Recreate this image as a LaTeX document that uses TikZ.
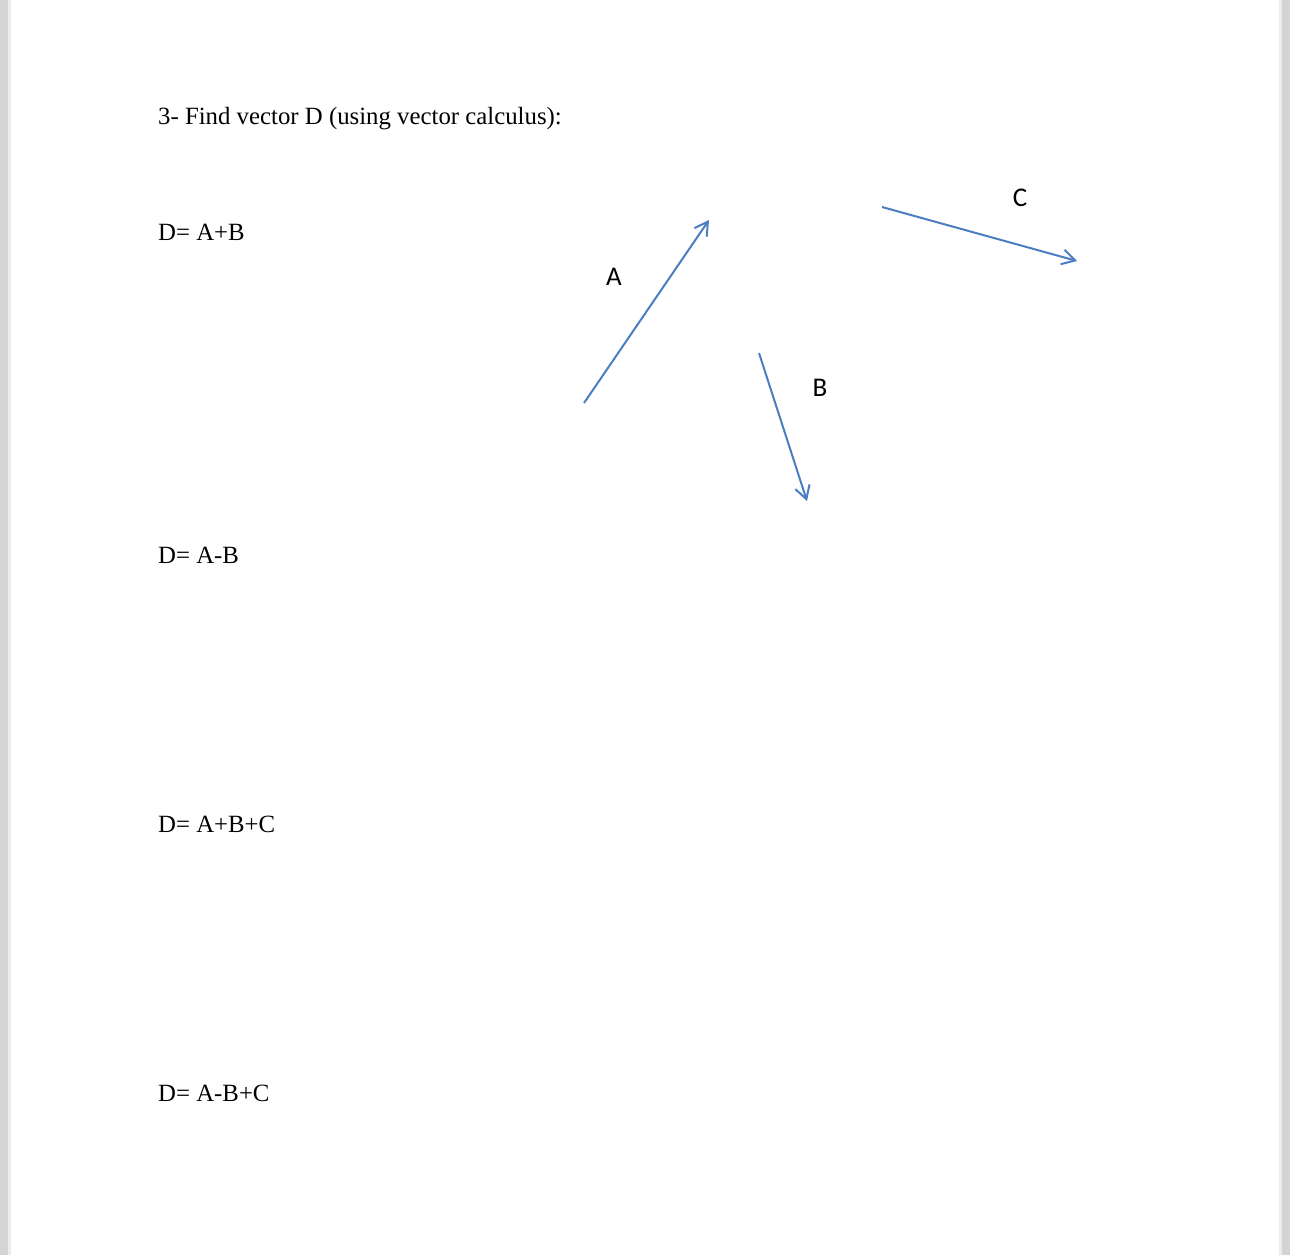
\documentclass[tikz,border=0pt]{standalone}
\usepackage{fontspec}
\setmainfont{Liberation Serif}
\newfontfamily\labelfont{Carlito}
\usetikzlibrary{arrows.meta}
\definecolor{vecblue}{RGB}{74,126,193}
\definecolor{pageedge}{RGB}{212,212,212}
\definecolor{pageshade}{RGB}{236,236,236}

\begin{document}
\begin{tikzpicture}[
x=1pt,y=-1pt,
>={Straight Barb[length=13pt,width=15pt]},
task/.style={
	anchor=base west,
	inner sep=0pt,
	font=\fontsize{24.8}{30}\selectfont
},
vec/.style={
	->,
	vecblue,
	line width=2pt
},
veclabel/.style={
	inner sep=0pt,
	font=\labelfont\fontsize{27}{32}\selectfont
}
]
% page and its grey edges
\useasboundingbox (0,0) rectangle (1290,1255);
\fill[white] (0,0) rectangle (1290,1255);
\fill[pageedge] (0,0) rectangle (8,1255);
\fill[pageshade] (8,0) rectangle (11,1255);
\fill[pageshade] (1279,0) rectangle (1282,1255);
\fill[pageedge] (1282,0) rectangle (1290,1255);

% question and the four tasks
\node[task] (title) at (158,124) {3- Find vector D (using vector calculus):};
\foreach \y/\t [count=\i] in {240/{D= A+B},563/{D= A-B},832/{D= A+B+C},1101/{D= A-B+C}}
\node[task] (task\i) at (158,\y) {\t};

% the three vectors
\coordinate (a0) at (584,403);
\coordinate (a1) at (709,220);
\coordinate (b0) at (759,353);
\coordinate (b1) at (807,501);
\coordinate (c0) at (882,207);
\coordinate (c1) at (1077,261);

\draw[vec] (a0) -- (a1);
\draw[vec] (b0) -- (b1);
\draw[vec] (c0) -- (c1);

\node[veclabel] (labA) at (614,277) {A};
\node[veclabel] (labB) at (820,388) {B};
\node[veclabel] (labC) at (1020,198) {C};
\end{tikzpicture}
\end{document}
